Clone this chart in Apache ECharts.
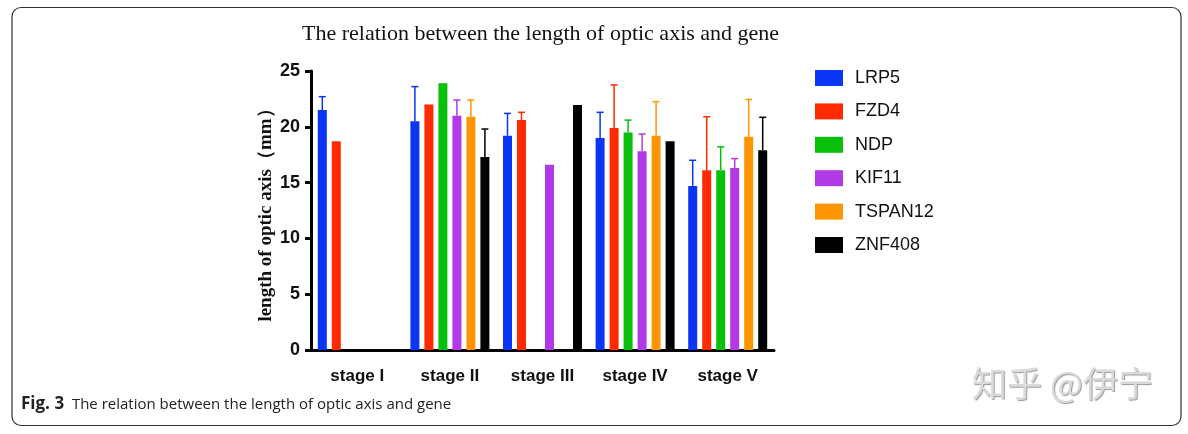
<!DOCTYPE html>
<html>
<head>
<meta charset="utf-8">
<script src="https://cdn.jsdelivr.net/npm/echarts@6/dist/echarts.min.js"></script>
<style>html,body{margin:0;padding:0;background:#fff;}#c{width:1188px;height:434px;}</style>
</head>
<body>
<div id="c"></div>
<script>
const categories = ['stage I', 'stage II', 'stage III', 'stage IV', 'stage V'];
const genes = ['LRP5', 'FZD4', 'NDP', 'KIF11', 'TSPAN12', 'ZNF408'];
const colors = ['#0a35f5', '#ff2a00', '#08c00c', '#b23ae6', '#ff9500', '#000000'];
// mean values (null = no data)
const LRP5    = [21.5, 20.5, 19.2, 19.0, 14.7];
const FZD4    = [18.7, 22.0, 20.6, 19.9, 16.1];
const NDP     = [null, 23.9, null, 19.5, 16.1];
const KIF11   = [null, 21.0, 16.6, 17.8, 16.3];
const TSPAN12 = [null, 20.9, null, 19.2, 19.1];
const ZNF408  = [null, 17.3, 21.95, 18.7, 17.9];
// upper end of error bars (null = no error bar)
const LRP5_err    = [22.7, 23.6, 21.2, 21.3, 17.0];
const FZD4_err    = [null, null, 21.3, 23.75, 20.9];
const NDP_err     = [null, null, null, 20.6, 18.2];
const KIF11_err   = [null, 22.4, null, 19.35, 17.15];
const TSPAN12_err = [null, 22.4, null, 22.25, 22.45];
const ZNF408_err  = [null, 19.8, null, null, 20.85];
const yTicks = [0, 5, 10, 15, 20, 25];

const values = [LRP5, FZD4, NDP, KIF11, TSPAN12, ZNF408];
const errs = [LRP5_err, FZD4_err, NDP_err, KIF11_err, TSPAN12_err, ZNF408_err];
const BAR_W = 9, BAR_GAP = 5;

const chart = echarts.init(document.getElementById('c'));
const series = [];
genes.forEach((g, i) => {
  series.push({
    name: g, type: 'bar', barWidth: BAR_W, barGap: (BAR_GAP / BAR_W * 100) + '%',
    itemStyle: { color: colors[i] },
    data: values[i].map(v => v == null ? '-' : v)
  });
});
genes.forEach((g, i) => {
  const data = [];
  errs[i].forEach((e, k) => { if (e != null && values[i][k] != null) data.push([k, values[i][k], e]); });
  series.push({
    type: 'custom', name: g + '_err', silent: true, z: 3,
    data: data,
    encode: { x: 0, y: [1, 2] },
    renderItem: function (params, api) {
      const k = api.value(0);
      const c = api.coord([k, 0]);
      const x = c[0] + (i - 2.5) * (BAR_W + BAR_GAP);
      const y0 = api.coord([k, api.value(1)])[1];
      const y1 = api.coord([k, api.value(2)])[1];
      const style = { stroke: colors[i], lineWidth: 1.5 };
      return {
        type: 'group', children: [
          { type: 'line', shape: { x1: x, y1: y0, x2: x, y2: y1 }, style: style },
          { type: 'line', shape: { x1: x - 3.5, y1: y1, x2: x + 3.5, y2: y1 }, style: style }
        ]
      };
    }
  });
});

chart.setOption({
  animation: false,
  title: {
    text: 'The relation between the length of optic axis and gene',
    left: 302, top: 23, padding: 0,
    textStyle: { fontFamily: 'Liberation Serif', fontWeight: 'normal', fontSize: 22, color: '#111' }
  },
  legend: {
    orient: 'vertical', left: 815, top: 69, padding: 0,
    itemWidth: 28, itemHeight: 16, itemGap: 15.4,
    data: genes.map(g => ({ name: g, icon: 'rect' })),
    textStyle: { fontFamily: 'Liberation Sans', fontSize: 18, color: '#111', padding: [0, 0, 0, 7] }
  },
  grid: { left: 311, top: 71, width: 463, height: 279, containLabel: false },
  xAxis: {
    type: 'category', data: categories,
    axisLine: { lineStyle: { color: '#000', width: 3 } },
    axisTick: { alignWithLabel: true, length: 9, lineStyle: { color: '#000', width: 3 } },
    axisLabel: { margin: 18, fontFamily: 'Liberation Sans', fontWeight: 'bold', fontSize: 17, color: '#111' }
  },
  yAxis: {
    type: 'value', min: yTicks[0], max: yTicks[yTicks.length - 1], interval: 5,
    name: 'length of optic axis（mm）', nameLocation: 'middle', nameGap: 35,
    nameTextStyle: { fontFamily: 'Liberation Serif', fontWeight: 'bold', fontSize: 19, color: '#111' },
    axisLine: { show: true, lineStyle: { color: '#000', width: 3 } },
    axisTick: { show: true, length: 6, lineStyle: { color: '#000', width: 3 } },
    axisLabel: { margin: 11, fontFamily: 'Liberation Sans', fontWeight: 'bold', fontSize: 18, color: '#111' },
    splitLine: { show: false }
  },
  graphic: [
    { type: 'rect', shape: { x: 12, y: 7.5, width: 1169, height: 418, r: 9 }, style: { fill: 'none', stroke: '#333', lineWidth: 1.2 }, z: -1 },
    { type: 'text', left: 21, top: 396, style: {
        text: '{b|Fig. 3}  The relation between the length of optic axis and gene',
        font: '15px "Open Sans"', fill: '#222',
        rich: { b: { fontFamily: 'Open Sans', fontWeight: 'bold', fontSize: 17, fill: '#222' } }
      } },
    { type: 'text', left: 972, top: 366, style: {
        text: '知乎 @伊宁', font: '35px "Noto Sans CJK SC"', fill: '#dadada',
        textShadowColor: 'rgba(0,0,0,0.4)', textShadowOffsetX: 1, textShadowOffsetY: 1, textShadowBlur: 1
      } }
  ],
  series: series
});
</script>
</body>
</html>
